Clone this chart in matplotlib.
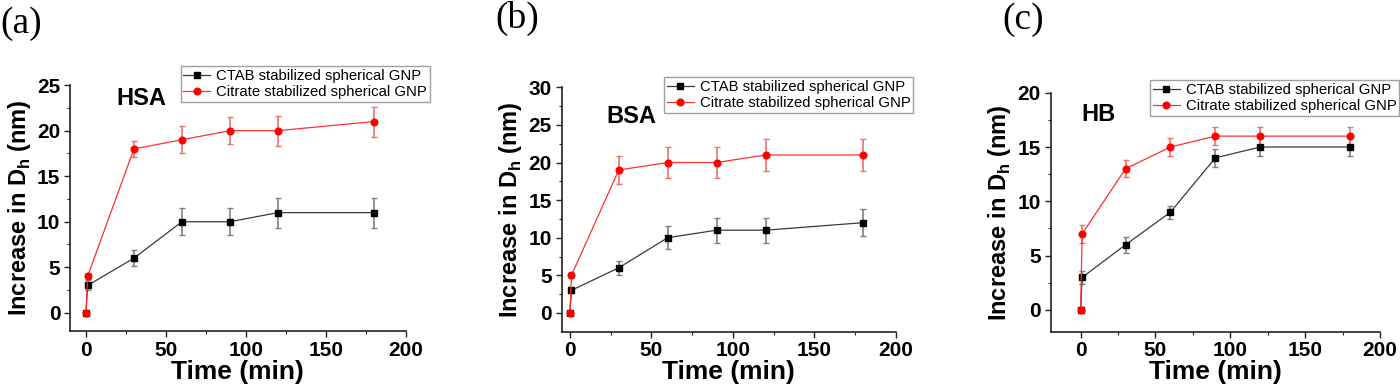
import matplotlib
matplotlib.use("Agg")
from matplotlib import pyplot as plt

plt.rcParams['font.family'] = ['Liberation Sans', 'DejaVu Sans']
plt.rcParams['mathtext.fontset'] = 'custom'
plt.rcParams['mathtext.bf'] = 'Liberation Sans:bold'
plt.rcParams['mathtext.rm'] = 'Liberation Sans'

time = [0, 1, 30, 60, 90, 120, 180]

# (a) HSA
hsa_ctab = [0, 3, 6, 10, 10, 11, 11]
hsa_ctab_err = [0, 0.55, 0.9, 1.5, 1.5, 1.65, 1.65]
hsa_cit = [0, 4, 18, 19, 20, 20, 21]
hsa_cit_err = [0, 0.33, 0.9, 1.5, 1.5, 1.65, 1.65]

# (b) BSA
bsa_ctab = [0, 3, 6, 10, 11, 11, 12]
bsa_ctab_err = [0, 0.4, 0.9, 1.5, 1.65, 1.65, 1.8]
bsa_cit = [0, 5, 19, 20, 20, 21, 21]
bsa_cit_err = [0, 0.3, 1.9, 2.0, 2.0, 2.1, 2.1]

# (c) HB
hb_ctab = [0, 3, 6, 9, 14, 15, 15]
hb_ctab_err = [0, 0.6, 0.72, 0.6, 0.8, 0.8, 0.8]
hb_cit = [0, 7, 13, 15, 16, 16, 16]
hb_cit_err = [0, 0.8, 0.8, 0.84, 0.8, 0.8, 0.8]

panels = [
    # rect, ylim, yticks, xlim, name, name pos, letter, letter pos, data, legend anchor
    ([0.050, 0.1447, 0.2398, 0.6353], (-2, 25), range(0, 26, 5), (-10, 200),
     "HSA", (19, 23.5), "(a)", (0.0, 0.94), (hsa_ctab, hsa_ctab_err, hsa_cit, hsa_cit_err),
     (1.072, 1.078)),
    ([0.4012, 0.1429, 0.2388, 0.6315], (-2.5, 30), range(0, 31, 5), (-5, 200),
     "BSA", (22.5, 26.1), "(b)", (0.3536, 0.953), (bsa_ctab, bsa_ctab_err, bsa_cit, bsa_cit_err),
     (1.052, 1.043)),
    ([0.7505, 0.1429, 0.2352, 0.6176], (-2, 20), range(0, 21, 5), (-20, 200),
     "HB", (0.7, 17.95), "(c)", (0.7162, 0.948), (hb_ctab, hb_ctab_err, hb_cit, hb_cit_err),
     (1.059, 1.053)),
]

fig = plt.figure(figsize=(14, 3.87), dpi=100)

for rect, ylim, yticks, xlim, name, npos, letter, lpos, data, anchor in panels:
    ctab, ctab_err, cit, cit_err = data
    ax = fig.add_axes(rect)
    ax.errorbar(time, ctab, yerr=ctab_err, fmt='none', ecolor='#808080',
                elinewidth=1.2, capsize=2.5, capthick=1.0, zorder=2)
    ax.errorbar(time, cit, yerr=cit_err, fmt='none', ecolor='#f07070',
                elinewidth=1.2, capsize=2.5, capthick=1.0, zorder=2)
    ax.plot(time, ctab, color='#3a3a3a', lw=0.9, marker='s', markersize=4.2,
            mfc='black', mec='black', label='CTAB stabilized spherical GNP', zorder=3)
    ax.plot(time, cit, color='#ff3030', lw=0.9, marker='o', markersize=4.8,
            mfc='#ff0000', mec='#ff0000', label='Citrate stabilized spherical GNP', zorder=4)
    ax.set_xlim(*xlim)
    ax.set_ylim(*ylim)
    ax.set_xticks([0, 50, 100, 150, 200])
    ax.set_xticks([25, 75, 125, 175], minor=True)
    ax.set_yticks(list(yticks))
    ax.set_yticks([v + 2.5 for v in list(yticks)[:-1]], minor=True)
    for s in ['top', 'right']:
        ax.spines[s].set_visible(False)
    for s in ['left', 'bottom']:
        ax.spines[s].set_linewidth(1.2)
        ax.spines[s].set_color('#222222')
    ax.tick_params(which='major', direction='out', length=4, width=1.0,
                   labelsize=15, colors='#222222', labelcolor='black', pad=3)
    ax.tick_params(which='minor', direction='out', length=2.5, width=0.8, colors='#222222')
    for lab in ax.get_xticklabels() + ax.get_yticklabels():
        lab.set_fontweight('bold')
    ax.set_xlabel('Time (min)', fontsize=19, fontweight='bold', labelpad=0)
    ax.set_ylabel(r'Increase in D$_\mathbf{h}$ (nm)', fontsize=17, fontweight='bold', labelpad=3)
    ax.text(npos[0], npos[1], name, fontsize=17, fontweight='bold', va='center', ha='left')
    leg = ax.legend(loc='upper right', bbox_to_anchor=anchor, fontsize=10.7,
                    frameon=True, fancybox=False, borderpad=0.2, labelspacing=0.15,
                    handlelength=1.8, handletextpad=0.4, borderaxespad=0)
    leg.get_frame().set_edgecolor('#888888')
    leg.get_frame().set_linewidth(1.0)
    fig.text(lpos[0], lpos[1], letter, fontsize=27, family='Liberation Serif',
             va='center', ha='left')

plt.savefig('out.png', dpi=100)
